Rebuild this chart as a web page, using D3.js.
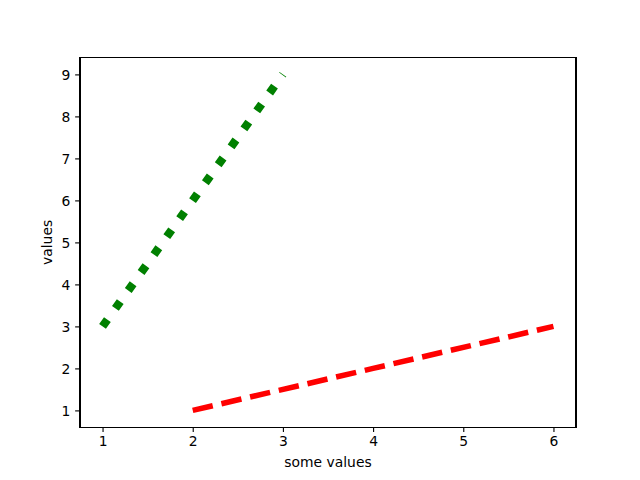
<!DOCTYPE html>
<html><head><meta charset="utf-8">
<script src="https://cdn.jsdelivr.net/npm/d3@7"></script>
<style>body{margin:0;background:#fff}text{font-family:"DejaVu Sans",sans-serif;}</style>
</head><body>
<svg id="c" width="640" height="480"></svg>
<script>
const greenX = [1, 2, 3];
const greenY = [3, 6, 9];
const redX = [2, 4, 6];
const redY = [1, 2, 3];
const xTicks = [1, 2, 3, 4, 5, 6];
const yTicks = [1, 2, 3, 4, 5, 6, 7, 8, 9];

const svg = d3.select("#c");
const L = 80, R = 576, T = 57.6, B = 427.2;
const pt = 100 / 72;
const x = d3.scaleLinear().domain([0.75, 6.25]).range([L, R]);
const y = d3.scaleLinear().domain([0.6, 9.4]).range([B, T]);

svg.append("rect").attr("width", 640).attr("height", 480).attr("fill", "#fff");

const line = d3.line().x(d => x(d[0])).y(d => y(d[1]));

svg.append("path")
  .datum(greenX.map((v, i) => [v, greenY[i]]))
  .attr("d", line).attr("fill", "none").attr("stroke", "#008000")
  .attr("stroke-width", 6 * pt).attr("stroke-linecap", "butt")
  .attr("stroke-dasharray", `${1 * 6 * pt},${1.65 * 6 * pt}`);

svg.append("path")
  .datum(redX.map((v, i) => [v, redY[i]]))
  .attr("d", line).attr("fill", "none").attr("stroke", "#ff0000")
  .attr("stroke-width", 4 * pt).attr("stroke-linecap", "butt")
  .attr("stroke-dasharray", `${3.7 * 4 * pt},${1.6 * 4 * pt}`);

const xAxis = d3.axisBottom(x).tickValues(xTicks).tickFormat(d3.format("d"))
  .tickSize(3.5 * pt).tickPadding(3.5 * pt);
const yAxis = d3.axisLeft(y).tickValues(yTicks).tickFormat(d3.format("d"))
  .tickSize(3.5 * pt).tickPadding(3.5 * pt);

const gx = svg.append("g").attr("transform", `translate(0,${B})`).call(xAxis);
const gy = svg.append("g").attr("transform", `translate(${L},0)`).call(yAxis);
[gx, gy].forEach(g => {
  g.select(".domain").remove();
  g.selectAll(".tick line").attr("stroke", "#000").attr("stroke-width", 0.8 * pt);
  g.selectAll("text").attr("font-size", 10 * pt).attr("fill", "#000")
    .attr("font-family", "DejaVu Sans");
});
gx.selectAll("text").attr("dy", null).attr("y", 19.3);
gy.selectAll("text").attr("dy", "0.36em");

svg.append("rect").attr("x", L).attr("y", T).attr("width", R - L).attr("height", B - T)
  .attr("fill", "none").attr("stroke", "#000").attr("stroke-width", 0.8 * pt)
  .attr("shape-rendering", "crispEdges");

svg.append("text").attr("x", (L + R) / 2).attr("y", 467).attr("text-anchor", "middle")
  .attr("font-size", 10 * pt).text("some values");
svg.append("text").attr("transform", `translate(52,${(T + B) / 2}) rotate(-90)`)
  .attr("text-anchor", "middle").attr("font-size", 10 * pt).text("values");
</script>
</body></html>
